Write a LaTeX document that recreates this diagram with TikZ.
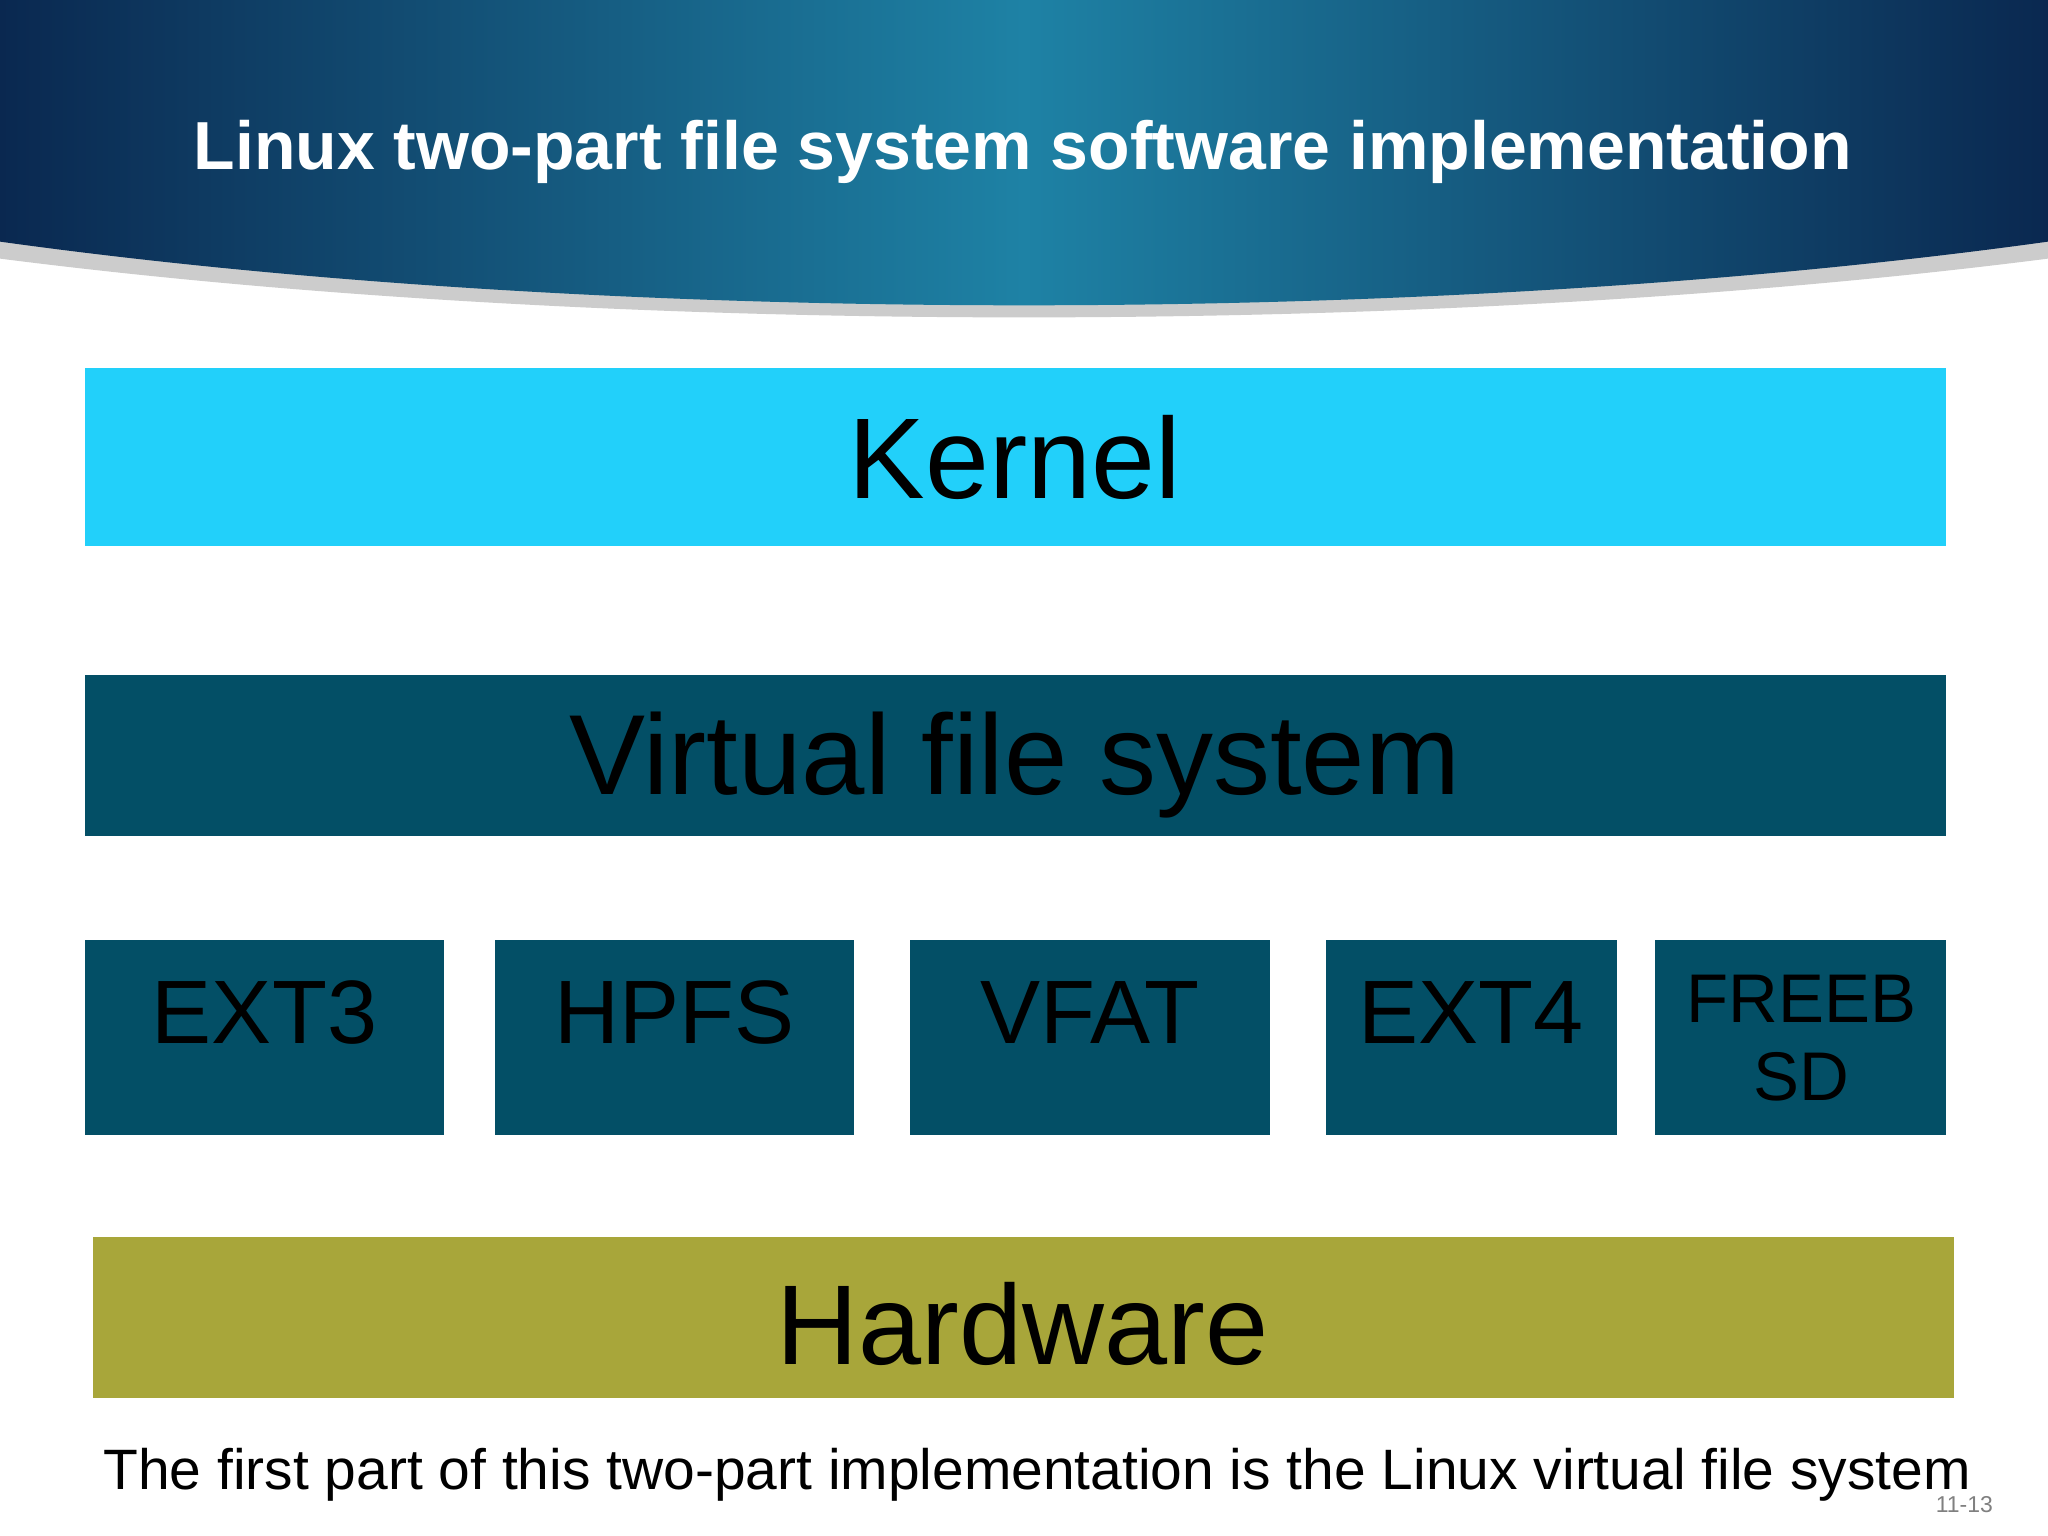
\documentclass[tikz,border=0pt]{standalone}
\usepackage{fontspec}
\setmainfont{Liberation Sans}
\begin{document}
\begin{tikzpicture}[x=0.01cm,y=-0.01cm]
\definecolor{kern}{HTML}{22D0FA}
\definecolor{vfs}{HTML}{034F66}
\definecolor{hw}{HTML}{A8A63A}
\useasboundingbox (0,0) rectangle (1568,1176);
\fill[white] (0,0) rectangle (1568,1176);
% header
\fill[gray!40] (0,0) -- (1568,0) -- (1568,198) .. controls (1100,258) and (468,258) .. (0,198) -- cycle;
\shade[left color={rgb,255:red,10;green,40;blue,80}, right color={rgb,255:red,10;green,40;blue,80}, middle color={rgb,255:red,30;green,130;blue,165}]
 (0,0) -- (1568,0) -- (1568,185) .. controls (1100,250) and (468,250) .. (0,185) -- cycle;
\node[text=white,font=\bfseries\fontsize{14.8}{18}\selectfont] (title) at (783,116) {Linux two-part file system software implementation};
% layers
\fill[kern] (65,282) rectangle (1490,418);
\node[font=\fontsize{25}{30}\selectfont] (kernel) at (777,350) {Kernel};
\fill[vfs] (65,517) rectangle (1490,640);
\node[font=\fontsize{24.8}{30}\selectfont] (vfs) at (777,586) {Virtual file system};
\foreach \n/\x/\xr/\t in {e3/65/340/EXT3,hp/379/654/HPFS,vf/697/972/VFAT,e4/1015/1238/EXT4}{
  \fill[vfs] (\x,720) rectangle (\xr,869);
  \node[font=\fontsize{19.6}{24}\selectfont] (\n) at ({(\x+\xr)/2},775) {\t};
}
\fill[vfs] (1267,720) rectangle (1490,869);
\node[font=\fontsize{15}{17}\selectfont,align=center] (fb) at (1379,795) {FREEB\\SD};
\fill[hw] (71,947) rectangle (1496,1070);
\node[font=\fontsize{24.7}{30}\selectfont] (hwb) at (783,1014) {Hardware};
\node[font=\fontsize{12.4}{16}\selectfont] (cap) at (794,1129) {The first part of this two-part implementation is the Linux virtual file system};
\node[text=gray,font=\fontsize{5}{6}\selectfont] (pg) at (1504,1152) {11-13};
\end{tikzpicture}
\end{document}
